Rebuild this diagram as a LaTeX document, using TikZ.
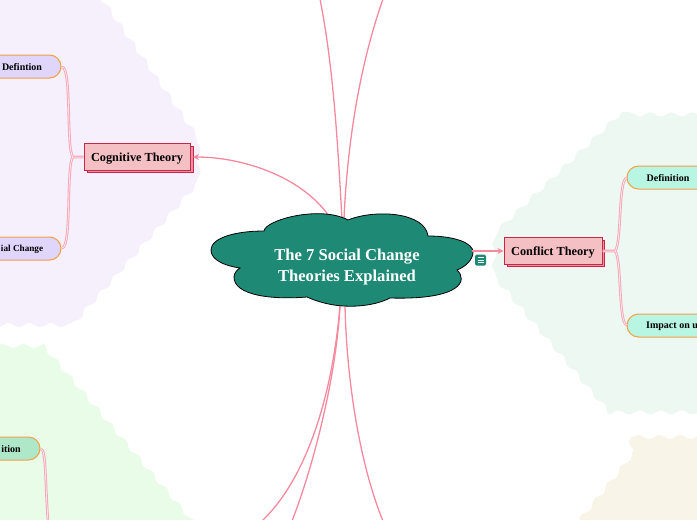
\documentclass[tikz,border=0pt]{standalone}
\usepackage{fontspec}
\setmainfont{Liberation Serif}
\usetikzlibrary{decorations.pathmorphing,arrows.meta}
\definecolor{rootgreen}{HTML}{1E8A76}
\definecolor{linkpink}{HTML}{F58A9E}
\definecolor{sublink}{HTML}{F7A9B9}
\definecolor{boxfill}{HTML}{F5C0C3}
\definecolor{boxline}{HTML}{C9264A}
\definecolor{pillline}{HTML}{F2A045}
\definecolor{blobpurple}{HTML}{F6EFFC}
\definecolor{blobmint}{HTML}{EDF8F2}
\definecolor{blobgreen}{HTML}{E8FCE8}
\definecolor{blobcream}{HTML}{F9F4E8}
\definecolor{pillpurple}{HTML}{E0D5FB}
\definecolor{pillmint}{HTML}{B8F5E3}
\definecolor{pillgreen}{HTML}{AEE8C8}
\tikzset{
  blob/.style={fill=#1,decorate,decoration={snake,segment length=21,amplitude=2}},
  mainlink/.style={draw=linkpink,line width=1.3},
  arrowlink/.style={mainlink,-{Stealth[length=6,width=6]}},
  sublinkout/.style={draw=sublink,line width=2.6},
  sublinkin/.style={draw=white,line width=0.5},
  topicbox/.style={draw=boxline,fill=boxfill,line width=1,minimum height=27,inner sep=0,text height=10,text depth=2,font=\fontsize{12.3}{14}\bfseries,text=black},
  topicback/.style={draw=boxline,fill=boxfill!70!boxline,line width=1},
  pill/.style={rounded corners=11.5,draw=pillline,line width=1,fill=#1},
  pilltext/.style={font=\fontsize{10}{12}\bfseries,text=black,inner sep=0},
}
\begin{document}
\begin{tikzpicture}[x=1pt,y=-1pt]
\useasboundingbox (0,0) rectangle (697,520);
\clip (0,0) rectangle (697,520);
% background regions
\fill[blob=blobpurple] (-25,-25) -- (80,-25) -- (196,143) -- (196,177) -- (67,323) -- (-25,323) -- cycle;
\fill[blob=blobmint] (622,112) -- (501,227) -- (500,272) -- (617,410) -- (725,410) -- (725,112) -- cycle;
\fill[blob=blobgreen] (-25,346) -- (42,346) -- (194,525) -- (194,545) -- (-25,545) -- cycle;
\fill[blob=blobcream] (632,437) -- (725,437) -- (725,545) -- (545,545) -- cycle;
% anchors of the connectors
\coordinate (topL) at (342,219);
\coordinate (topR) at (344,219);
\coordinate (upL) at (320,-1);
\coordinate (upR) at (383,-1);
\coordinate (cogStart) at (329,216);
\coordinate (cogTip) at (193,157);
\coordinate (conflictStart) at (472,251);
\coordinate (botA) at (340,306);
\coordinate (botB) at (345,306);
\coordinate (downA) at (262,521);
\coordinate (downB) at (292,521);
\coordinate (downC) at (383,521);
\coordinate (cogFork) at (73,157);
\coordinate (conFork) at (615,251);
% main connectors
\draw[mainlink] (topL) .. controls (338,150) and (334,70) .. (upL);
\draw[mainlink] (topR) .. controls (347,150) and (358,70) .. (upR);
\draw[mainlink] (botA) .. controls (332,400) and (305,480) .. (downA);
\draw[mainlink] (botA) .. controls (336,380) and (312,470) .. (downB);
\draw[mainlink] (botB) .. controls (347,390) and (362,470) .. (downC);
% pills
\draw[pill=pillpurple] (-30,55) rectangle (61,78);
\node[pilltext] (cogDef) at (22,67) {Defintion};
\draw[pill=pillpurple] (-30,237) rectangle (61,260);
\node[pilltext,anchor=west,font=\fontsize{9.2}{11}\bfseries] (cogImp) at (0.8,249) {ial Change};
\draw[pill=pillmint] (627,166) rectangle (730,189);
\node[pilltext] (conDef) at (668,178) {Definition};
\draw[pill=pillmint] (627,314) rectangle (730,337);
\node[pilltext,anchor=west] (conImp) at (646,326) {Impact on u};
\draw[pill=pillgreen] (-30,437) rectangle (40,460);
\node[pilltext,anchor=east] (lowDef) at (21,449) {ition};
% topic boxes
\fill[topicback] (87,146) rectangle (193,172);
\node[topicbox,minimum width=106] (cog) at (137,157) {Cognitive Theory};
\fill[topicback] (507,240) rectangle (604,266);
\node[topicbox,minimum width=98] (con) at (553,251) {Conflict Theory};
% sub connectors
\foreach \w in {sublinkout,sublinkin}{
  \draw[\w] (cog.west) -- (cogFork) .. controls (66,150) and (72,67) .. (62,67);
  \draw[\w] (cogFork) .. controls (66,164) and (72,248) .. (62,248);
  \draw[\w] (con.east) -- (conFork) .. controls (622,244) and (618,178) .. (627,178);
  \draw[\w] (conFork) .. controls (622,258) and (618,325) .. (627,325);
  \draw[\w] (41,449) .. controls (46,449) and (45,480) .. (48,521);
}
\draw[arrowlink] (cogStart) .. controls (300,175) and (240,157) .. (cogTip);
% root cloud
\draw[fill=rootgreen,draw=black,line width=0.8]
  (348,220) .. controls (375,209) and (425,212) .. (428,236)
  .. controls (455,236) and (473,243) .. (473,252)
  .. controls (473,260) and (465,267) .. (457,270)
  .. controls (468,280) and (462,300) .. (390,298)
  .. controls (375,306) and (340,312) .. (307,297)
  .. controls (270,300) and (234,295) .. (234,277)
  .. controls (234,273) and (237,270) .. (240,268)
  .. controls (220,265) and (211,258) .. (211,250)
  .. controls (211,238) and (235,231) .. (264,231)
  .. controls (265,220) and (320,205) .. (348,220) -- cycle;
\node[font=\fontsize{16.6}{20.5}\bfseries,text=white,align=center,inner sep=0] (root) at (347,267) {The 7 Social Change\\Theories Explained};
\draw[arrowlink] (conflictStart) -- (con.west);
% note icon
\node[fill=rootgreen,rounded corners=1.5,minimum size=11,inner sep=0] (note) at (480.5,260) {};
\foreach \dy in {-2.5,0,2.5}
  \draw[white,line width=0.8] ([xshift=-3,yshift=\dy]note.center) -- ([xshift=3,yshift=\dy]note.center);
\end{tikzpicture}
\end{document}
